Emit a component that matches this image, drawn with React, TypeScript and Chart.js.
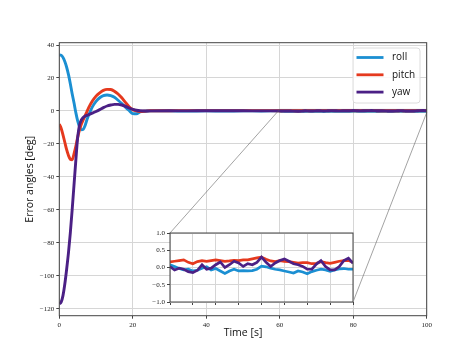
import React, { useEffect, useRef } from "react";
import { Chart, registerables } from "chart.js";
Chart.register(...registerables);

// ---------- data ----------
const transientTime = [
  0, 0.5, 1, 1.5, 2, 2.5, 3, 3.5, 4, 4.5, 5, 5.5, 6, 6.5, 7, 7.5, 8,
  9, 10, 11, 12, 13, 14, 15, 16, 17, 18, 19, 20, 21, 22, 23, 24, 25,
  30, 35, 40, 45, 50, 55,
];
const rollTransient = [
  34, 33.8, 32.5, 30, 26.5, 22, 16.5, 10.5, 5, -1, -6, -9.5, -11.5, -11.2, -9, -5.5, -2.5,
  2.5, 5.8, 8, 9.3, 9.7, 9.3, 8.3, 6.5, 4.5, 2.3, 0.3, -1.6, -1.7, -0.6, -0.2, 0, 0.05,
  0.02, -0.05, 0.03, -0.04, 0.05, -0.02,
];
const pitchTransient = [
  -8, -10.5, -14.5, -19, -23.5, -27, -29.3, -29.6, -26, -21.5, -16, -11.5, -8, -5.5, -3, -0.5, 2,
  6, 9, 11, 12.5, 13.1, 13, 12, 10.3, 8, 5.2, 2.5, 0.8, 0, -0.3, -0.2, 0.05, 0.1,
  0.15, 0.2, 0.17, 0.2, 0.18, 0.2,
];
const yawTransient = [
  -117, -116, -112, -105, -96, -86, -74, -60, -45, -30, -16, -8.5, -5.5, -4, -3.2, -2.7, -2.2,
  -1.3, -0.3, 0.8, 2, 3, 3.6, 4, 4, 3.6, 2.8, 1.8, 1, 0.4, 0.1, 0, 0, 0.05,
  0.1, 0.05, 0.12, 0.08, 0.1, 0.05,
];

const zoomTime = [
  60, 61, 62, 63, 64, 65, 66, 67, 68, 69, 70, 71, 72, 73, 74, 75, 76, 77, 78, 79, 80,
  81, 82, 83, 84, 85, 86, 87, 88, 89, 90, 91, 92, 93, 94, 95, 96, 97, 98, 99, 100,
];
const rollZoom = [
  0.08, 0.03, -0.03, -0.07, -0.05, -0.1, -0.08, -0.02, 0.02, -0.07, -0.03, -0.1, -0.17, -0.1, -0.05, -0.1, -0.09, -0.1, -0.09, -0.05, 0.04,
  0.02, -0.02, -0.05, -0.07, -0.1, -0.13, -0.16, -0.1, -0.13, -0.18, -0.12, -0.08, -0.05, -0.07, -0.11, -0.07, -0.04, -0.03, -0.05, -0.05,
];
const pitchZoom = [
  0.16, 0.18, 0.2, 0.22, 0.15, 0.11, 0.17, 0.2, 0.18, 0.2, 0.22, 0.2, 0.18, 0.19, 0.21, 0.2, 0.22, 0.22, 0.25, 0.28, 0.3,
  0.24, 0.19, 0.17, 0.2, 0.18, 0.17, 0.15, 0.13, 0.14, 0.14, 0.11, 0.12, 0.17, 0.14, 0.12, 0.15, 0.18, 0.2, 0.2, 0.15,
];
const yawZoom = [
  0.03, -0.07, -0.02, -0.05, -0.12, -0.15, -0.08, 0.08, -0.05, -0.02, 0.08, 0.16, 0.0, 0.08, 0.18, 0.13, 0.03, 0.11, 0.08, 0.15, 0.3,
  0.15, 0.03, 0.13, 0.2, 0.25, 0.18, 0.11, 0.08, 0.03, -0.05, -0.05, 0.1, 0.2, 0.03, -0.07, -0.07, 0.03, 0.2, 0.27, 0.12,
];

const seriesNames = ["roll", "pitch", "yaw"];
const seriesColors = ["#1b8fd2", "#e5391e", "#4b2085"];

const xTickStep = 20;
const yTickStep = 20;
const zoomXRange = [60, 100];
const zoomYRange = [-1, 1];
const zoomYStep = 0.5;
const zoomXStep = 5;

// ---------- layout ----------
const W = 474;
const H = 355;
const INSET = { left: 170, top: 233, right: 353, bottom: 302 };
const INSET_YAXIS_W = 30;
const INSET_PAD = 8;

const TICK_FONT = { family: "'Liberation Serif', serif", size: 7 };
const TITLE_FONT = { family: "'Open Sans', sans-serif", size: 10.5 };
const fmtMinus = (v: number, digits = 0) => {
  const s = Number(v).toFixed(digits);
  return s.replace("-", "\u2212");
};

const pairs = (xs: number[], ys: number[]) => xs.map((x, i) => ({ x, y: ys[i] }));

export default function App() {
  const mainRef = useRef<HTMLCanvasElement>(null);
  const insetRef = useRef<HTMLCanvasElement>(null);

  useEffect(() => {
    const allTime = transientTime.concat(zoomTime);
    const mainSeries = [
      rollTransient.concat(rollZoom),
      pitchTransient.concat(pitchZoom),
      yawTransient.concat(yawZoom),
    ];
    const zoomSeries = [rollZoom, pitchZoom, yawZoom];

    const framePlugin = {
      id: "frame",
      afterDatasetsDraw(chart: any) {
        const { ctx, chartArea: a } = chart;
        ctx.save();
        ctx.strokeStyle = "#444";
        ctx.lineWidth = 1;
        ctx.strokeRect(a.left, a.top, a.right - a.left, a.bottom - a.top);
        ctx.restore();
      },
    };

    const mainDecor = {
      id: "mainDecor",
      beforeDatasetsDraw(chart: any) {
        const { ctx } = chart;
        const xs = chart.scales.x;
        const ys = chart.scales.y;
        ctx.save();
        ctx.strokeStyle = "rgba(90,90,90,0.8)";
        ctx.lineWidth = 0.7;
        const x0 = xs.getPixelForValue(zoomXRange[0]);
        const x1 = xs.getPixelForValue(zoomXRange[1]);
        const y0 = ys.getPixelForValue(zoomYRange[1]);
        const y1 = ys.getPixelForValue(zoomYRange[0]);
        ctx.strokeRect(x0, y0, x1 - x0, y1 - y0);
        ctx.restore();
      },
      afterDatasetsDraw(chart: any) {
        const { ctx, chartArea: a } = chart;
        const xs = chart.scales.x;
        const ys = chart.scales.y;
        ctx.save();
        // connectors
        ctx.strokeStyle = "rgba(90,90,90,0.8)";
        ctx.lineWidth = 0.7;
        ctx.beginPath();
        ctx.moveTo(xs.getPixelForValue(zoomXRange[0]), ys.getPixelForValue(zoomYRange[1]));
        ctx.lineTo(INSET.left, INSET.top);
        ctx.moveTo(xs.getPixelForValue(zoomXRange[1]), ys.getPixelForValue(zoomYRange[0]));
        ctx.lineTo(INSET.right, INSET.bottom);
        ctx.stroke();

        // legend
        const bw = 67, bh = 55;
        const bx = a.right - 6.7 - bw;
        const by = a.top + 5.3;
        ctx.fillStyle = "rgba(255,255,255,0.85)";
        ctx.strokeStyle = "#dcdcdc";
        ctx.lineWidth = 1;
        ctx.beginPath();
        (ctx as any).roundRect(bx, by, bw, bh, 3);
        ctx.fill();
        ctx.stroke();
        ctx.font = "10px 'Open Sans', sans-serif";
        ctx.textBaseline = "middle";
        ctx.textAlign = "left";
        seriesNames.forEach((name, i) => {
          const yy = by + 9.5 + i * 17.3;
          ctx.strokeStyle = seriesColors[i];
          ctx.lineWidth = 2.8;
          ctx.beginPath();
          ctx.moveTo(bx + 3.5, yy);
          ctx.lineTo(bx + 30.5, yy);
          ctx.stroke();
          ctx.fillStyle = "#111";
          ctx.fillText(name, bx + 39, yy);
        });
        ctx.restore();
      },
    };

    const main = new Chart(mainRef.current!, {
      type: "line",
      data: {
        datasets: seriesNames.map((name, i) => ({
          label: name,
          data: pairs(allTime, mainSeries[i]),
          borderColor: seriesColors[i],
          backgroundColor: seriesColors[i],
          borderWidth: 2.9,
          pointRadius: 0,
          order: seriesNames.length - i,
          cubicInterpolationMode: "monotone" as const,
          fill: false,
        })),
      },
      options: {
        animation: false,
        responsive: false,
        maintainAspectRatio: false,
        devicePixelRatio: 1,
        layout: { padding: { top: 42.7, right: 47.3, bottom: 0, left: 0 } },
        plugins: { legend: { display: false }, tooltip: { enabled: false } },
        scales: {
          x: {
            type: "linear",
            min: 0,
            max: 100,
            ticks: {
              stepSize: xTickStep,
              font: TICK_FONT,
              color: "#222",
              padding: 2.5,
              maxRotation: 0,
              includeBounds: false,
              callback: (v: any) => fmtMinus(v),
            },
            grid: { color: "#d6d6d6", lineWidth: 1, tickLength: 3, tickColor: "#444" },
            border: { display: false },
            title: {
              display: true,
              text: "Time [s]",
              font: TITLE_FONT,
              color: "#111",
              padding: { top: 0, bottom: 15.4 },
            },
            afterFit: (s: any) => {
              s.height = 39.3;
            },
          },
          y: {
            type: "linear",
            min: -124.2,
            max: 41.4,
            ticks: {
              stepSize: yTickStep,
              font: TICK_FONT,
              color: "#222",
              padding: 2,
              includeBounds: false,
              callback: (v: any) => fmtMinus(v),
            },
            grid: { color: "#d6d6d6", lineWidth: 1, tickLength: 3, tickColor: "#444" },
            border: { display: false },
            title: {
              display: true,
              text: "Error angles [deg]",
              font: TITLE_FONT,
              color: "#111",
              padding: { top: 24, bottom: 0 },
            },
            afterFit: (s: any) => {
              s.width = 59.3;
            },
          },
        },
      },
      plugins: [mainDecor, framePlugin],
    });

    const insetBg = {
      id: "insetBg",
      beforeDraw(chart: any) {
        const { ctx, chartArea: a } = chart;
        ctx.save();
        ctx.fillStyle = "#fff";
        ctx.fillRect(a.left, a.top, a.right - a.left, a.bottom - a.top);
        ctx.restore();
      },
    };

    const inset = new Chart(insetRef.current!, {
      type: "line",
      data: {
        datasets: seriesNames.map((name, i) => ({
          label: name,
          data: pairs(zoomTime, zoomSeries[i]),
          borderColor: seriesColors[i],
          backgroundColor: seriesColors[i],
          borderWidth: 2.7,
          pointRadius: 0,
          order: seriesNames.length - i,
          tension: 0,
          fill: false,
        })),
      },
      options: {
        animation: false,
        responsive: false,
        maintainAspectRatio: false,
        devicePixelRatio: 1,
        layout: { padding: { top: INSET_PAD, right: INSET_PAD, bottom: 0, left: 0 } },
        plugins: { legend: { display: false }, tooltip: { enabled: false } },
        scales: {
          x: {
            type: "linear",
            min: zoomXRange[0],
            max: zoomXRange[1],
            ticks: { stepSize: zoomXStep, display: false, includeBounds: false },
            grid: { color: "#d6d6d6", lineWidth: 1, tickLength: 3, tickColor: "#444" },
            border: { display: false },
            afterFit: (s: any) => {
              s.height = INSET_PAD;
            },
          },
          y: {
            type: "linear",
            min: zoomYRange[0],
            max: zoomYRange[1],
            ticks: {
              stepSize: zoomYStep,
              font: TICK_FONT,
              color: "#222",
              padding: 2,
              includeBounds: false,
              callback: (v: any) => fmtMinus(v, 1),
            },
            grid: { color: "#d6d6d6", lineWidth: 1, tickLength: 3, tickColor: "#444" },
            border: { display: false },
            afterFit: (s: any) => {
              s.width = INSET_YAXIS_W;
            },
          },
        },
      },
      plugins: [insetBg, framePlugin],
    });

    return () => {
      main.destroy();
      inset.destroy();
    };
  }, []);

  const insetW = INSET.right - INSET.left + INSET_YAXIS_W + INSET_PAD;
  const insetH = INSET.bottom - INSET.top + INSET_PAD * 2;

  return (
    <div style={{ position: "fixed", left: 0, top: 0, width: W, height: H, background: "#fff" }}>
      <canvas
        ref={mainRef}
        width={W}
        height={H}
        style={{ position: "absolute", left: 0, top: 0, width: W, height: H }}
      />
      <canvas
        ref={insetRef}
        width={insetW}
        height={insetH}
        style={{
          position: "absolute",
          left: INSET.left - INSET_YAXIS_W,
          top: INSET.top - INSET_PAD,
          width: insetW,
          height: insetH,
        }}
      />
    </div>
  );
}
